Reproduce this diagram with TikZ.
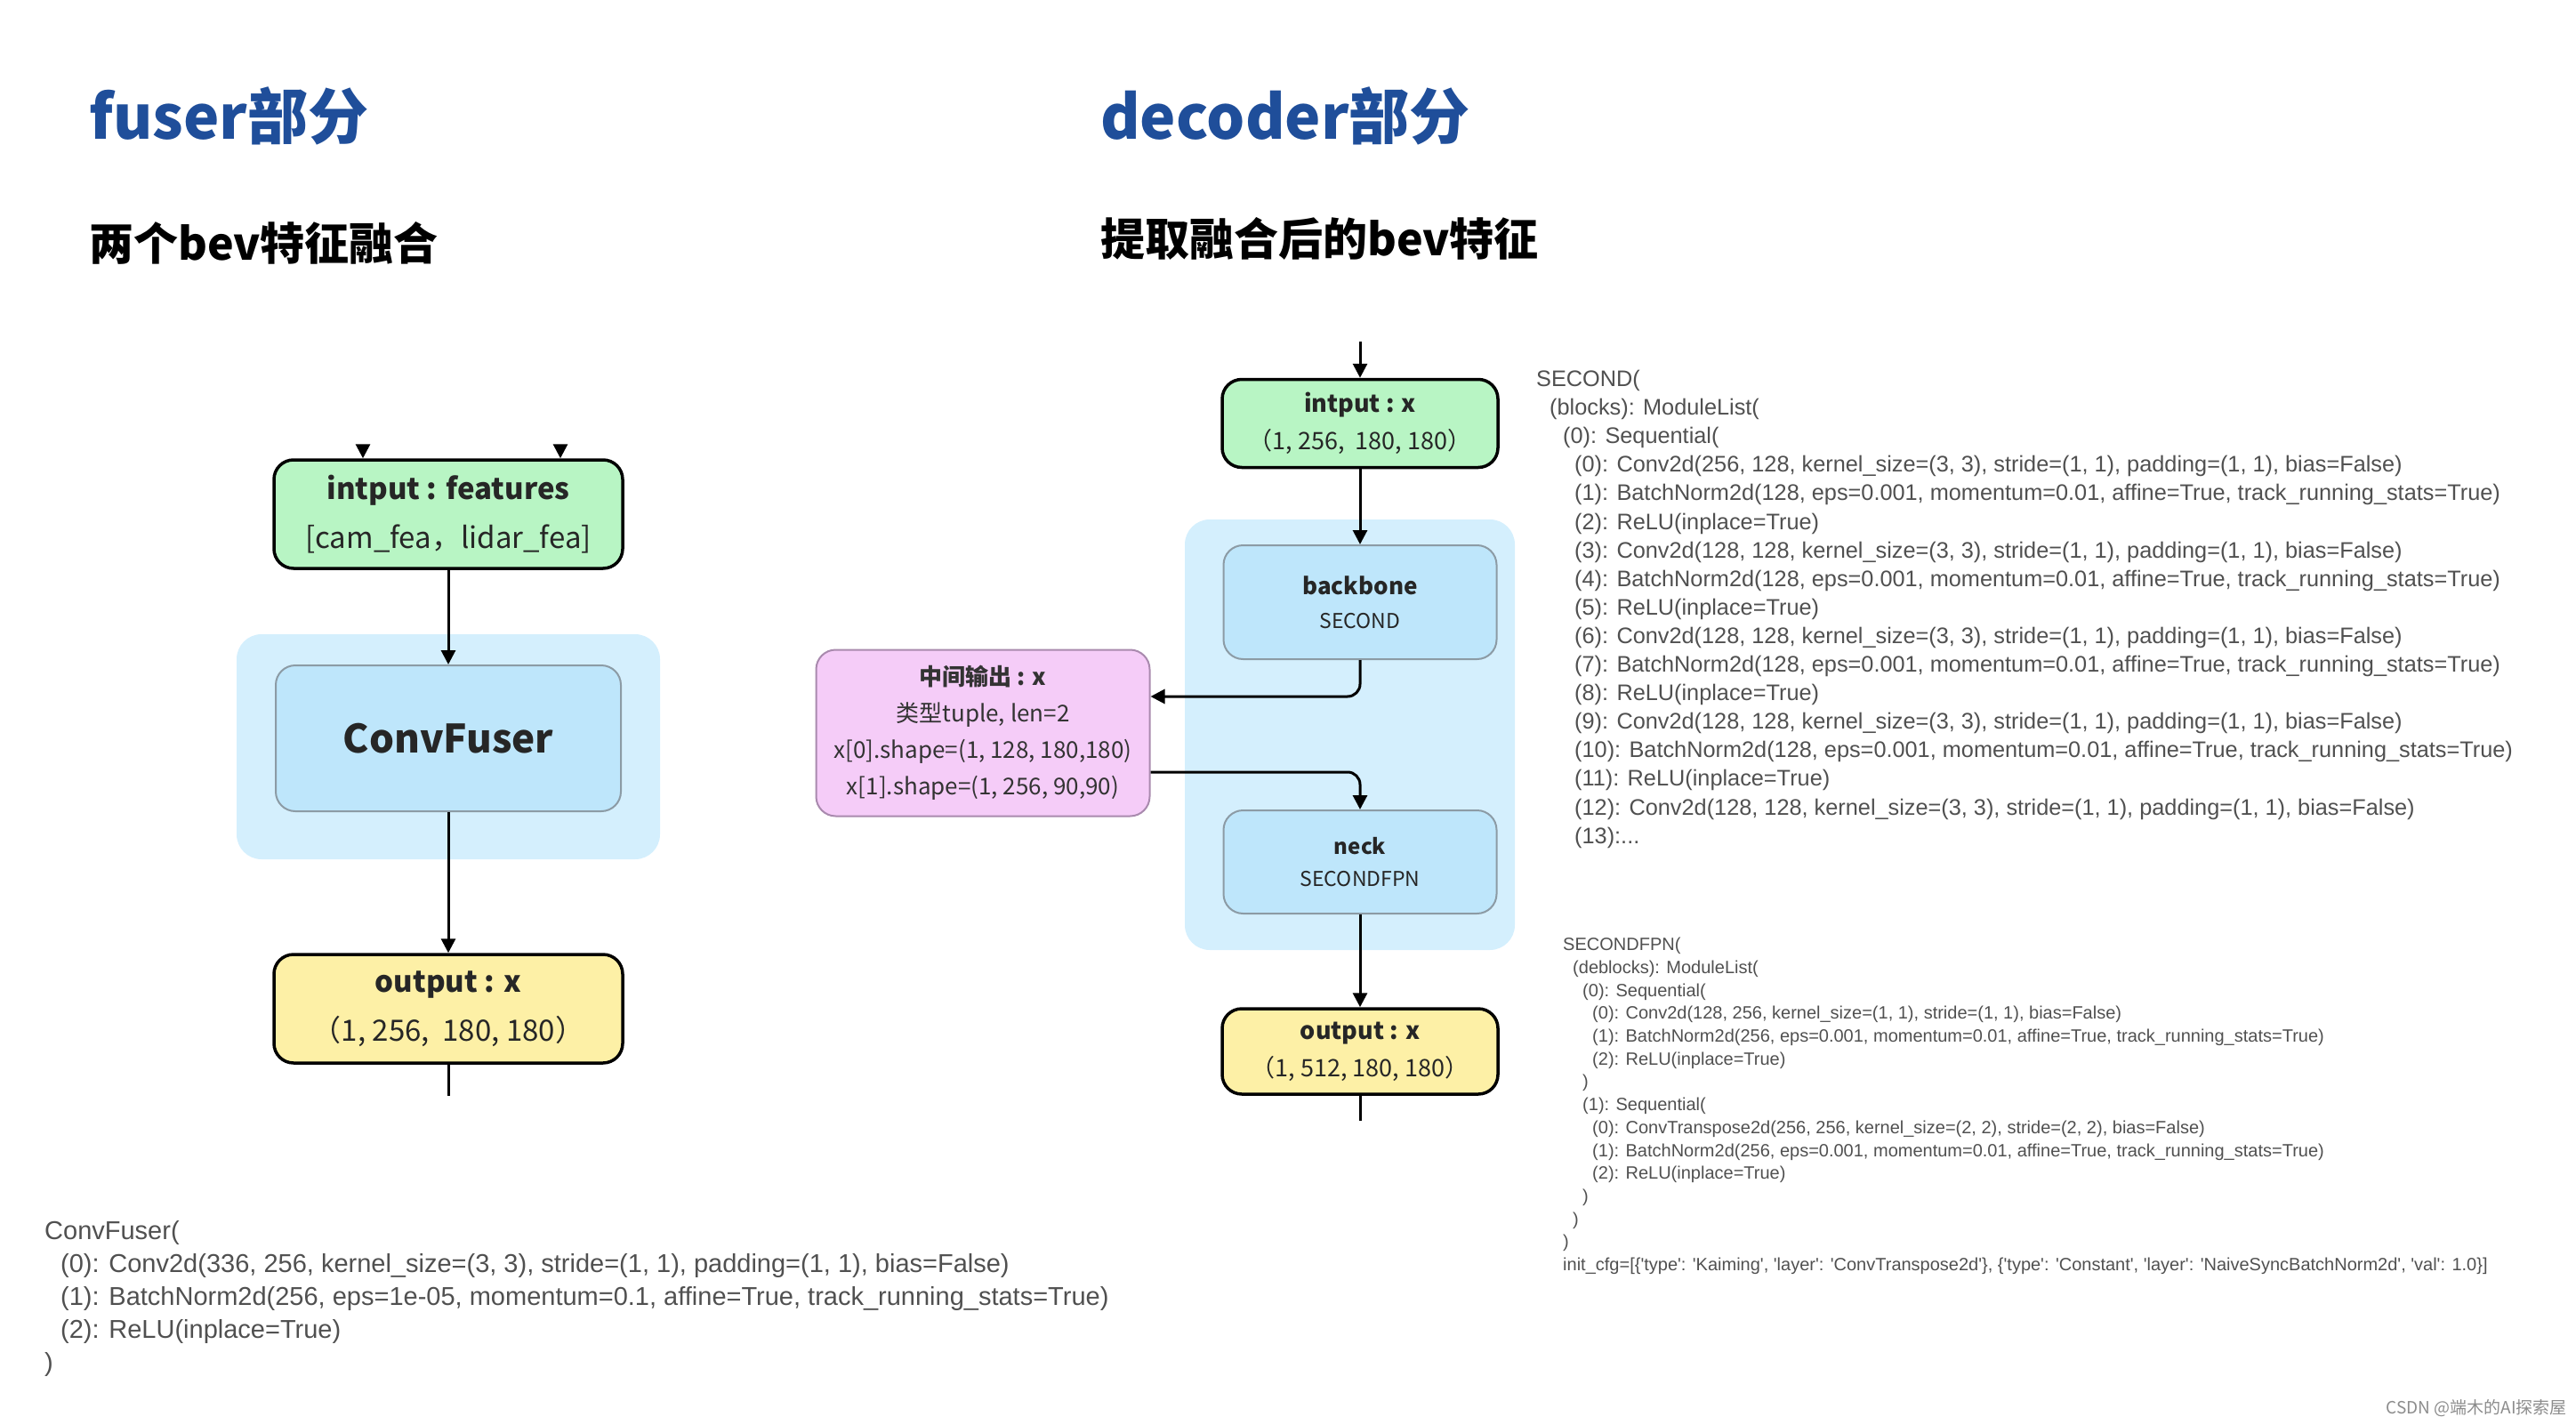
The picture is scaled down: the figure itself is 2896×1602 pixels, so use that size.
\documentclass[tikz,border=0pt]{standalone}
\usepackage{fontspec}
\setmainfont{Noto Sans CJK SC}
\newfontfamily\codefont{Liberation Sans}
\usetikzlibrary{arrows.meta,calc}
\definecolor{ttl}{HTML}{1F4E9A}
\definecolor{gfill}{HTML}{B8F5C4}
\definecolor{yfill}{HTML}{FDF0A6}
\definecolor{pfill}{HTML}{F5CCF8}
\definecolor{pdraw}{HTML}{A98AAE}
\definecolor{panel}{HTML}{D4EFFD}
\definecolor{bfill}{HTML}{BEE6FB}
\definecolor{bdraw}{HTML}{8C9BA5}
\definecolor{codec}{HTML}{505050}
\tikzset{
 io/.style={draw=black,line width=3.5pt,rounded corners=22pt,align=center,inner sep=0pt,text=black!85},
 blk/.style={draw=bdraw,line width=2pt,fill=bfill,rounded corners=22pt,align=center,inner sep=0pt,text=black!85},
 pan/.style={fill=panel,rounded corners=28pt},
 arr/.style={line width=3pt,-{Triangle[length=16pt,width=16pt]}},
 ln/.style={line width=3pt},
 code/.style={anchor=north west,align=left,inner sep=0pt,text=codec},
 title/.style={anchor=west,inner sep=0pt,text=ttl,font=\fontsize{68}{80}\selectfont\bfseries},
 sub/.style={anchor=west,inner sep=0pt,text=black,font=\fontsize{50}{60}\selectfont\bfseries},
}
\begin{document}
\begin{tikzpicture}[x=1pt,y=-1pt]
\useasboundingbox (0,0) rectangle (2896,1602);
% titles
\node[title] (t1) at (100,130) {fuser部分};
\node[sub] (s1) at (100,273) {两个bev特征融合};
\node[title] (t2) at (1237,130) {decoder部分};
\node[sub] (s2) at (1237,268) {提取融合后的bev特征};
% left
\fill[pan] (266,713) rectangle (742,966);
\node[io,fill=gfill,minimum width=392pt,minimum height=122pt,font=\fontsize{33}{55}\selectfont] (in1) at (504,578) {\textbf{intput : features}\\{}[cam\_fea，lidar\_fea]};
\node[blk,minimum width=388pt,minimum height=164pt,font=\fontsize{44}{50}\selectfont] (cf) at (504,830) {\textbf{ConvFuser}};
\node[io,fill=yfill,minimum width=392pt,minimum height=122pt,font=\fontsize{33}{55}\selectfont] (out1) at (504,1134) {\textbf{output : x}\\（1, 256,\ \ 180, 180）};
\coordinate (ia) at (408,505); \coordinate (ib) at (630,505);
\draw[arr] (ia) -- (in1.north -| ia);
\draw[arr] (ib) -- (in1.north -| ib);
\draw[arr] (in1) -- (cf);
\draw[arr] (cf) -- (out1);
\coordinate (e1) at (504,1232);
\draw[ln] (out1) -- (e1);
\node[code,font=\codefont\fontsize{29}{37}\selectfont] (c1) at (50,1372) {ConvFuser(\\
\hspace*{18pt}(0): Conv2d(336, 256, kernel\_size=(3, 3), stride=(1, 1), padding=(1, 1), bias=False)\\
\hspace*{18pt}(1): BatchNorm2d(256, eps=1e-05, momentum=0.1, affine=True, track\_running\_stats=True)\\
\hspace*{18pt}(2): ReLU(inplace=True)\\
)};
% right
\fill[pan] (1332,584) rectangle (1703,1068);
\coordinate (top2) at (1529,384);
\node[io,fill=gfill,minimum width=310pt,minimum height=99pt,font=\fontsize{27}{42}\selectfont] (in2) at (1529,476) {\textbf{intput : x}\\（1, 256,\ \ 180, 180）};
\node[blk,minimum width=307pt,minimum height=128pt,font=\fontsize{26}{38}\selectfont] (bb) at (1529,677) {\textbf{backbone}\\{\fontsize{23}{30}\selectfont SECOND}};
\node[blk,minimum width=307pt,minimum height=116pt,font=\fontsize{24}{36}\selectfont] (nk) at (1529,969) {\textbf{neck}\\{\fontsize{23}{30}\selectfont SECONDFPN}};
\node[io,fill=yfill,minimum width=310pt,minimum height=96pt,font=\fontsize{27}{42}\selectfont] (out2) at (1529,1182) {\textbf{output : x}\\（1, 512, 180, 180）};
\node[draw=pdraw,line width=2pt,fill=pfill,rounded corners=22pt,minimum width=375pt,minimum height=187pt,align=center,inner sep=0pt,text=black!80,font=\fontsize{26}{41}\selectfont] (mid) at (1105,824) {\textbf{中间输出 : x}\\类型tuple, len=2\\x[0].shape=(1, 128, 180,180)\\x[1].shape=(1, 256, 90,90)};
\draw[arr] (top2) -- (in2);
\draw[arr] (in2) -- (bb);
\draw[arr,rounded corners=14pt] (bb.south) |- (mid.east |- 0,783);
\draw[arr,rounded corners=14pt] (mid.east |- 0,868) -| (nk.north);
\draw[arr] (nk) -- (out2);
\coordinate (e2) at (1529,1260);
\draw[ln] (out2) -- (e2);
\node[code,font=\codefont\fontsize{25.3}{32.1}\selectfont] (c2) at (1727,416) {SECOND(\\
\hspace*{15pt}(blocks): ModuleList(\\
\hspace*{30pt}(0): Sequential(\\
\hspace*{43pt}(0): Conv2d(256, 128, kernel\_size=(3, 3), stride=(1, 1), padding=(1, 1), bias=False)\\
\hspace*{43pt}(1): BatchNorm2d(128, eps=0.001, momentum=0.01, affine=True, track\_running\_stats=True)\\
\hspace*{43pt}(2): ReLU(inplace=True)\\
\hspace*{43pt}(3): Conv2d(128, 128, kernel\_size=(3, 3), stride=(1, 1), padding=(1, 1), bias=False)\\
\hspace*{43pt}(4): BatchNorm2d(128, eps=0.001, momentum=0.01, affine=True, track\_running\_stats=True)\\
\hspace*{43pt}(5): ReLU(inplace=True)\\
\hspace*{43pt}(6): Conv2d(128, 128, kernel\_size=(3, 3), stride=(1, 1), padding=(1, 1), bias=False)\\
\hspace*{43pt}(7): BatchNorm2d(128, eps=0.001, momentum=0.01, affine=True, track\_running\_stats=True)\\
\hspace*{43pt}(8): ReLU(inplace=True)\\
\hspace*{43pt}(9): Conv2d(128, 128, kernel\_size=(3, 3), stride=(1, 1), padding=(1, 1), bias=False)\\
\hspace*{43pt}(10): BatchNorm2d(128, eps=0.001, momentum=0.01, affine=True, track\_running\_stats=True)\\
\hspace*{43pt}(11): ReLU(inplace=True)\\
\hspace*{43pt}(12): Conv2d(128, 128, kernel\_size=(3, 3), stride=(1, 1), padding=(1, 1), bias=False)\\
\hspace*{43pt}(13):...};
\node[code,font=\codefont\fontsize{20}{25.7}\selectfont] (c3) at (1757,1054) {SECONDFPN(\\
\hspace*{11pt}(deblocks): ModuleList(\\
\hspace*{22pt}(0): Sequential(\\
\hspace*{33pt}(0): Conv2d(128, 256, kernel\_size=(1, 1), stride=(1, 1), bias=False)\\
\hspace*{33pt}(1): BatchNorm2d(256, eps=0.001, momentum=0.01, affine=True, track\_running\_stats=True)\\
\hspace*{33pt}(2): ReLU(inplace=True)\\
\hspace*{22pt})\\
\hspace*{22pt}(1): Sequential(\\
\hspace*{33pt}(0): ConvTranspose2d(256, 256, kernel\_size=(2, 2), stride=(2, 2), bias=False)\\
\hspace*{33pt}(1): BatchNorm2d(256, eps=0.001, momentum=0.01, affine=True, track\_running\_stats=True)\\
\hspace*{33pt}(2): ReLU(inplace=True)\\
\hspace*{22pt})\\
\hspace*{11pt})\\
)\\
init\_cfg=[\{'type': 'Kaiming', 'layer': 'ConvTranspose2d'\}, \{'type': 'Constant', 'layer': 'NaiveSyncBatchNorm2d', 'val': 1.0\}]};
\node[anchor=east,inner sep=0pt,text=black!45,font=\fontsize{19}{22}\selectfont] (wm) at (2886,1583) {CSDN @端木的AI探索屋};
\end{tikzpicture}
\end{document}
